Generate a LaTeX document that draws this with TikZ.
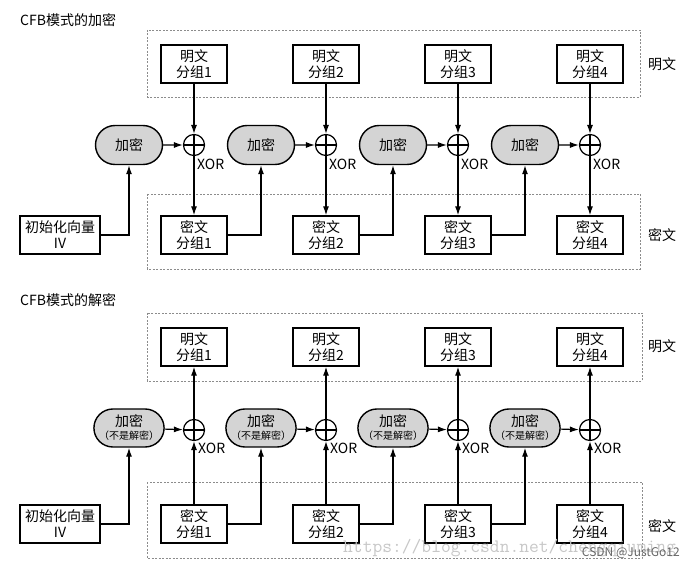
\documentclass[tikz,border=0pt]{standalone}
\usepackage{fontspec}
\setmainfont{Noto Sans CJK SC}
\usetikzlibrary{arrows.meta,shapes.misc}

\begin{document}
\begin{tikzpicture}[
  x=1pt, y=-1pt,
  plain/.style={
    draw=none,
    fill=none,
    inner sep=0pt,
    font=\fontsize{14}{16}\selectfont
  },
  block/.style={
    draw,
    rectangle,
    fill=white,
    line width=1.4pt,
    minimum width=66pt,
    minimum height=38pt,
    inner sep=0pt,
    align=center,
    font=\fontsize{14}{16}\selectfont
  },
  encbox/.style={
    draw,
    rounded rectangle,
    fill=black!17,
    line width=1.4pt,
    minimum width=67pt,
    minimum height=39pt,
    inner sep=0pt,
    align=center,
    font=\fontsize{14}{15}\selectfont
  },
  xorop/.style={
    draw,
    circle,
    line width=1.2pt,
    minimum size=21pt,
    inner sep=0pt
  },
  region/.style={
    draw=black!45,
    dash pattern=on 2pt off 1.5pt,
    line width=0.6pt
  },
  flow/.style={
    ->,
    line width=1.2pt
  },
  >={Latex[length=9pt,width=6pt]}
]

\useasboundingbox (0,0) rectangle (694,569);

% Titles
\node[plain, anchor=west] (enc-title) at (20,20) {CFB模式的加密};
\node[plain, anchor=west] (dec-title) at (20,300) {CFB模式的解密};

% Regions
\draw[region] (147,30) rectangle (640,97);
\draw[region] (147,194) rectangle (640,269);
\draw[region] (147,313) rectangle (642,381);
\draw[region] (147,482) rectangle (642,558);
\node[plain, anchor=west] (enc-plabel) at (648,64) {明文};
\node[plain, anchor=west] (enc-clabel) at (648,235) {密文};
\node[plain, anchor=west] (dec-plabel) at (648,346) {明文};
\node[plain, anchor=west] (dec-clabel) at (648,526) {密文};

% IV boxes
\node[block, minimum width=80pt] (enc-iv) at (60,235) {初始化向量\\IV};
\node[block, minimum width=80pt] (dec-iv) at (60,524) {初始化向量\\IV};

% Encryption
\foreach \i in {1,...,4} {
  \pgfmathsetmacro{\cx}{194+132*(\i-1)}
  \node[block] (ep\i) at (\cx,64) {明文\\分组\i};
  \node[xorop] (ex\i) at (\cx,145) {};
  \node[encbox] (ee\i) at (\cx-65,145) {加密};
  \node[block] (ec\i) at (\cx,235) {密文\\分组\i};
  \node[plain, anchor=west] (exl\i) at (\cx+3,164) {XOR};
  \draw[line width=1.2pt] (ex\i.north) -- (ex\i.south) (ex\i.west) -- (ex\i.east);
  \draw[flow] (ep\i) -- (ex\i);
  \draw[flow] (ex\i) -- (ec\i);
  \draw[flow] (ee\i) -- (ex\i);
}

% Decryption
\foreach \i in {1,...,4} {
  \pgfmathsetmacro{\cx}{194+132*(\i-1)}
  \node[block] (dp\i) at (\cx,347) {明文\\分组\i};
  \node[xorop] (dx\i) at (\cx,430) {};
  \node[encbox, minimum height=38pt] (de\i) at (\cx-65,428)
    {加密\\[-2pt]{\fontsize{10}{11}\selectfont （不是解密）}};
  \node[block] (dc\i) at (\cx,524) {密文\\分组\i};
  \node[plain, anchor=west] (dxl\i) at (\cx+4,448) {XOR};
  \draw[line width=1.2pt] (dx\i.north) -- (dx\i.south) (dx\i.west) -- (dx\i.east);
  \draw[flow] (dc\i) -- (dx\i);
  \draw[flow] (dx\i) -- (dp\i);
  \draw[flow] (de\i) -- (dx\i);
}

% Feedback
\draw[flow] (enc-iv.east) -| (ee1.south);
\draw[flow] (dec-iv.east) -| (de1.south);
\foreach \i/\j in {1/2,2/3,3/4} {
  \draw[flow] (ec\i.east) -| (ee\j.south);
  \draw[flow] (dc\i.east) -| (de\j.south);
}

% Watermark
\node[plain, anchor=west, text=black!22, font=\fontsize{19}{20}\selectfont\ttfamily]
  (wm-url) at (343,548) {https://blog.csdn.net/chengqiuming};
\node[plain, anchor=east, text=black!60, font=\fontsize{12}{13}\selectfont]
  (wm-name) at (680,553) {CSDN @JustGo12};

\end{tikzpicture}
\end{document}
